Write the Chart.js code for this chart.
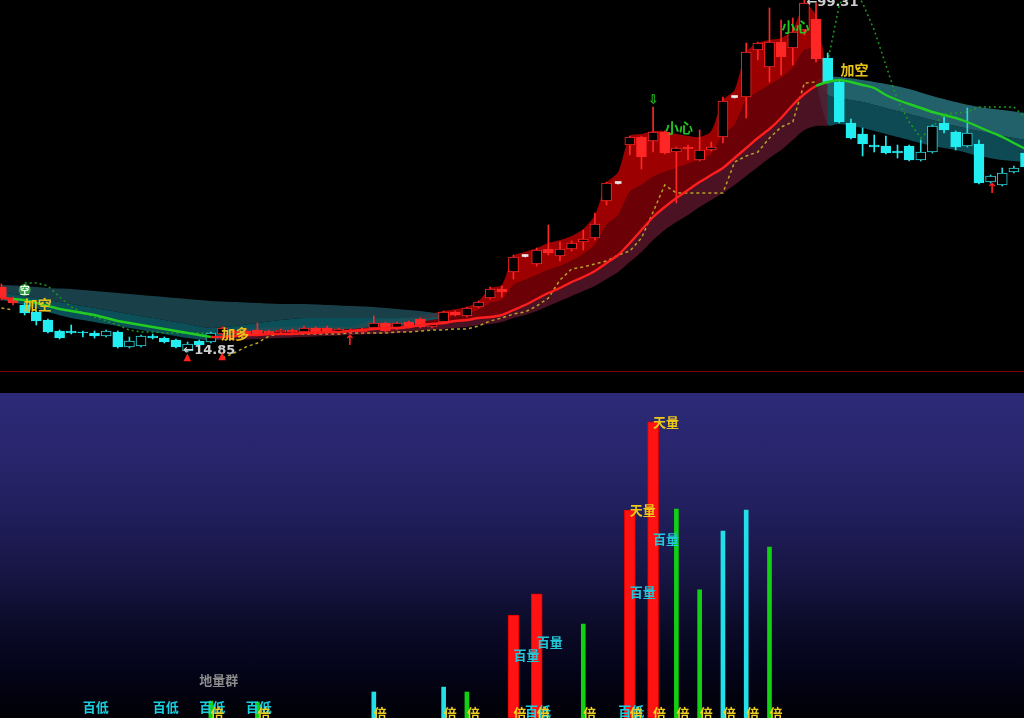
<!DOCTYPE html>
<html><head><meta charset="utf-8">
<script src="https://cdn.jsdelivr.net/npm/chart.js@4/dist/chart.umd.min.js"></script>
<style>
html,body{margin:0;padding:0;background:#000;width:1024px;height:718px;overflow:hidden}
#top{position:absolute;left:0;top:0}
#sep{position:absolute;left:0;top:371px;width:1024px;height:1px;background:#7a0000}
#volWrap{position:absolute;left:0;top:393px;width:1024px;height:325px;
background:linear-gradient(to bottom,#2d2a78 0%,#28256c 20%,#1f1d58 40%,#151440 58%,#0b0b28 72%,#04041a 85%,#000005 100%)}
#vol{position:absolute;left:0;top:0}
</style></head><body>
<canvas id="top" width="1024" height="370"></canvas>
<div id="sep"></div>
<div id="volWrap"><canvas id="vol" width="1024" height="325"></canvas></div>
<script>
// ---------- price data (one entry per trading day) ----------
const opens = [30.43,27.55,26.11,24.43,22.51,19.87,19.87,19.63,19.39,18.67,
19.63,16.03,16.27,18.67,18.19,17.71,15.07,17.47,17.23,19.15,
19.87,19.87,20.11,19.87,19.63,20.11,19.63,20.59,20.59,19.63,
20.11,19.63,20.59,21.79,20.35,22.03,22.75,20.83,22.03,24.43,
23.47,25.63,27.79,29.95,34.03,37.87,35.95,39.55,37.87,39.55,
41.23,42.19,51.07,55.39,64.51,66.43,65.47,67.63,62.83,64.03,
60.91,63.31,66.43,76.03,76.03,87.31,83.23,89.23,87.79,92.11,
94.75,85.39,79.63,69.79,67.15,64.51,64.27,63.07,64.27,60.91,
62.83,69.79,67.63,64.27,64.75,55.63,54.91,58.03,62.59];
const highs = [31.15,28.03,26.59,24.67,22.75,20.11,21.31,19.87,19.87,20.11,
19.87,18.43,18.91,19.15,18.43,17.95,17.23,17.71,19.63,20.83,
20.11,20.35,21.79,20.11,20.35,20.35,21.07,20.83,21.07,20.59,
20.35,20.59,23.47,22.03,22.03,22.27,22.99,21.79,24.67,24.67,
25.63,27.07,30.43,30.67,38.11,38.11,39.79,45.31,41.23,41.47,
44.11,48.19,55.63,55.63,66.67,66.67,73.63,67.87,64.03,64.51,
68.11,65.23,76.03,76.27,88.99,89.23,97.39,94.51,94.99,99.31,
98.59,86.59,79.87,70.75,68.59,66.91,66.67,64.51,64.51,65.71,
69.31,71.23,67.87,73.39,65.71,57.31,58.99,59.47,63.07];
const lows = [27.31,26.11,23.71,21.31,19.39,17.95,19.15,18.43,18.19,18.43,
15.79,15.79,16.03,17.95,16.99,15.79,14.85,16.27,16.99,18.91,
19.15,18.91,18.91,19.15,19.39,19.39,19.39,19.39,19.39,19.39,
19.39,19.39,20.35,19.63,20.11,20.59,20.59,20.59,21.79,23.47,
23.23,25.39,27.55,28.03,32.35,37.63,35.47,38.11,36.67,39.07,
39.31,41.71,50.11,55.15,62.11,58.75,62.83,62.35,50.59,60.91,
60.67,63.07,64.99,75.79,70.99,84.91,79.63,81.31,83.71,90.91,
84.43,79.39,69.79,65.95,61.87,62.83,62.35,61.39,60.67,60.67,
62.59,67.39,63.31,64.03,55.15,55.39,54.67,57.79,58.99];
const closes = [27.79,26.59,24.19,22.27,19.63,18.19,19.39,19.39,18.67,19.87,
16.03,17.47,18.67,18.19,17.23,16.03,16.75,16.51,19.39,20.59,
19.39,19.15,19.15,19.39,20.11,19.63,20.59,19.63,19.63,20.35,
19.63,20.35,21.79,19.87,21.79,20.83,20.83,21.55,24.43,23.71,
25.39,26.83,29.95,29.23,37.63,37.87,39.31,38.59,39.55,40.99,
41.95,45.55,55.39,55.39,66.43,61.63,67.63,62.59,63.79,63.55,
63.31,64.03,75.07,76.03,86.83,88.99,89.23,85.63,91.63,98.59,
85.15,79.63,70.03,66.19,64.75,64.03,62.59,62.59,60.91,62.83,
69.07,68.11,64.03,67.39,55.39,57.07,57.79,58.99,59.23];
// trend state: 1 = long (red), 0 = short (cyan)
const trendUp = [1,1,
0,0,0,0,0,0,0,0,0,0,0,0,0,0,0,0,0,
1,1,1,1,1,1,1,1,1,1,1,1,1,1,1,1,1,1,1,1,1,1,1,1,1,1,
1,1,1,1,1,1,1,1,1,1,1,1,1,1,1,1,1,1,1,1,1,1,1,1,1,1,
0,0,0,0,0,0,0,0,0,0,0,0,0,0,0,0,0,0];
const maLine = [27.79,27.55,27.31,26.59,25.87,25.15,24.67,24.19,23.71,22.99,
22.27,21.79,21.31,20.83,20.35,19.87,19.39,18.91,18.43,18.43,
18.67,18.91,18.91,19.15,19.15,19.15,19.39,19.39,19.63,19.63,
19.87,20.11,20.35,20.59,20.59,20.83,21.31,21.55,21.79,22.27,
22.51,22.99,23.23,23.71,24.91,26.11,27.55,28.99,30.19,31.63,
32.83,34.27,36.19,38.11,40.99,44.11,47.23,49.63,51.79,53.71,
55.63,57.31,58.99,61.39,63.79,66.19,68.35,70.99,74.11,76.75,
78.67,79.63,80.11,79.63,78.91,78.19,76.51,75.31,74.35,73.39,
72.43,71.71,70.99,70.03,68.83,67.63,66.43,64.99,63.55];
const stopLine = [25.39,24.91,31.39,31.39,30.67,28.03,25.63,24.19,23.23,22.27,
21.31,20.11,19.63,19.63,19.39,19.39,19.39,19.39,19.39,13.39,
14.59,16.03,16.99,18.67,19.15,19.15,19.15,19.15,19.15,19.15,
19.39,19.39,19.39,19.39,19.63,19.63,19.87,20.11,20.11,20.35,
20.35,21.07,22.27,22.99,23.95,24.43,25.87,27.79,32.11,34.75,
35.23,35.95,36.67,38.11,39.07,42.19,48.43,54.91,52.99,52.99,
52.99,52.99,52.99,60.43,61.87,62.83,66.19,68.83,70.03,79.39,
79.63,84.43,98.11,102.91,98.59,92.11,83.71,75.31,70.03,66.19,
68.83,71.95,72.19,72.43,73.63,73.63,73.63,73.63,70.99];
// cloud bands
const tealLeftIdx = [0,2,4,6,8,10,12,14,16,18,20,22,24,26,28,30,32,34,36,38];
const tealLeftTop = [30.91,30.67,30.19,29.95,29.47,28.99,28.51,28.03,27.55,27.07,26.83,26.59,26.35,26.35,26.11,25.87,25.63,25.15,24.67,23.95];
const tealLeftMid = [29.23,28.27,27.31,26.35,25.39,24.43,23.47,22.51,21.55,20.59,21.07,21.79,22.51,22.99,22.99,22.99,22.99,22.99,22.99,23.47];
const tealLeftBot = [27.31,26.11,24.43,22.99,22.03,21.07,20.11,19.15,18.19,17.71,18.67,19.39,19.87,20.11,20.35,20.35,20.83,21.07,22.03,22.99];
const redIdx = [18,20,22,24,26,28,30,32,34,36,38,40,41,42,43,44,45,46,47,48,49,50,51,52,53,54,55,56,57,58,59,60,61,62,63,64,65,66,67,68,69,70,71];
const redTop = [18.91,19.87,20.59,20.83,21.07,21.07,20.83,22.51,22.75,23.47,24.67,25.63,27.07,30.19,30.91,37.87,38.83,39.79,40.99,41.71,42.67,44.35,47.71,55.39,58.03,66.67,67.15,67.87,67.87,67.15,66.67,66.43,67.87,75.31,77.71,86.83,88.99,89.71,90.19,92.11,98.11,95.71,80.11];
const redMid = [18.67,19.15,19.63,19.87,20.11,20.35,20.35,21.31,21.55,22.27,22.99,23.95,24.91,26.59,27.31,30.91,32.11,33.31,34.51,35.47,36.67,38.35,40.51,45.31,47.71,53.23,54.91,56.83,58.03,58.99,59.95,60.91,62.35,66.91,69.31,75.31,77.23,78.91,80.59,82.99,87.31,87.31,79.87];
const redLow = [17.71,17.71,17.95,18.19,18.43,18.67,18.91,19.15,19.39,19.87,20.35,20.83,21.31,21.55,22.03,22.99,23.71,24.67,25.87,27.07,28.27,29.47,30.67,32.35,34.03,36.43,38.83,41.71,44.11,46.03,47.71,49.63,51.31,52.99,54.91,57.07,59.23,61.39,63.31,65.71,68.11,69.07,69.07];
const tealRightIdx = [70,71,72,74,76,78,80,82,84,86,88];
const tealRightTop = [80.11,80.83,80.83,80.11,79.15,77.95,76.27,74.83,73.63,72.91,72.19];
const tealRightMid = [79.87,76.51,75.79,74.83,73.39,71.95,70.51,69.07,67.87,66.67,65.71];
const tealRightBot = [79.63,69.31,69.55,68.59,67.15,65.71,64.27,63.31,61.87,60.91,60.43];
// top annotations
const topNoteText  = ['空','加空','加多','←14.85','▲','▲','↑','⇩','小心','小心','←99.31','加空','↑'];
const topNoteIdx   = [2.0,3.12,20.09,17.86,15.97,18.97,29.94,56.0,58.22,68.24,71.41,73.3,85.12];
const topNotePrice = [29.71,26.11,19.15,15.07,13.63,13.87,17.47,75.07,68.59,92.83,98.59,82.51,53.95];
const topNoteKind  = ['badge','signal','signal','price','tri','tri','arrow','warnArrow','warn','warn','price','signal','arrow'];
// volume panel (special-volume bars only)
const volThinIdx  = [18,22,32,38,40,50,58,60,62,64,66];
const volThin     = [5.2,4.9,8.0,9.5,8.0,28.9,64.3,39.4,57.5,64.0,52.6];
const volThinKind = ['g','g','c','c','g','g','g','g','c','c','g'];
const volWideIdx  = [44,46,54,56];
const volWide     = [31.7,38.2,64.0,91.1];
const volNoteText = ['天量','天量','百量','百量','百量','百量','百低','百低','百低','百低','百低','百低','地量群'];
const volNoteIdx  = [56,54,56,54,44,46,7,13,17,21,45,53,17];
const volNoteVal  = [91.1,64.0,55.1,38.8,19.4,23.4,3.4,3.4,3.4,3.4,2.2,2.2,11.7];
const beiIdx      = [18,22,32,38,40,44,46,50,54,56,58,60,62,64,66];
const beiVal      = 1.5;

// ---------- styling ----------
const RED='#ff2626', CYAN='#22eef2', CYAN_EDGE='#2cd6da', DOJI='#e8e8e8';
const MA_RED='#ff1e1e', MA_GREEN='#22cc22';
const CJK='"Noto Sans CJK SC","DejaVu Sans",sans-serif';
function candleColor(i, edge){ if (opens[i]===closes[i]) return DOJI; return trendUp[i] ? RED : (edge && closes[i]>=opens[i] ? CYAN_EDGE : CYAN); }

function band(idx, vals, fill, color){
  return {type:'line', data: idx.map((x,k)=>({x, y: vals[k]})), borderWidth:0, pointRadius:0,
    fill: fill, backgroundColor: color, order: 10, tension: 0.25};
}
const redBase = redIdx.map(i => maLine[i]);

const topDatasets = [
  band(tealLeftIdx, tealLeftTop, 1, 'rgba(28,72,82,0.88)'),          //0
  band(tealLeftIdx, tealLeftMid, 2, 'rgba(12,90,100,0.88)'),         //1
  band(tealLeftIdx, tealLeftBot, false, 'rgba(0,0,0,0)'),            //2
  band(redIdx, redTop, 4, 'rgba(170,0,0,0.92)'),                     //3
  band(redIdx, redMid, 5, 'rgba(120,0,8,0.9)'),                      //4
  band(redIdx, redBase, 6, 'rgba(92,22,42,0.8)'),                    //5
  band(redIdx, redLow, false, 'rgba(0,0,0,0)'),                      //6
  band(tealRightIdx, tealRightTop, 8, 'rgba(38,108,116,0.9)'),       //7
  band(tealRightIdx, tealRightMid, 9, 'rgba(14,82,92,0.9)'),         //8
  band(tealRightIdx, tealRightBot, false, 'rgba(0,0,0,0)'),          //9
  {type:'line', data: stopLine.map((v,i)=>({x:i, y: trendUp[i] ? v : null})), borderColor:'#b9a12a',
    borderWidth:1.5, borderDash:[3,3], pointRadius:0, spanGaps:false, fill:false, order:8},
  {type:'line', data: stopLine.map((v,i)=>({x:i, y: trendUp[i] ? null : v})), borderColor:'#1f9a1f',
    borderWidth:1.5, borderDash:[2,3], pointRadius:0, spanGaps:false, fill:false, order:8},
  {type:'bar', data: opens.map((o,i)=>({x:i, y:[lows[i], highs[i]]})),
    backgroundColor: c => c.raw ? candleColor(c.raw.x, true) : RED, borderWidth:0,
    barThickness:1, grouped:false, order:6},
  {type:'bar', data: opens.map((o,i)=>({x:i, y:[Math.min(o,closes[i]), Math.max(o,closes[i])]})).filter(d=>opens[d.x]!==closes[d.x]),
    backgroundColor: c => { if(!c.raw) return RED; const i=c.raw.x; return closes[i]<opens[i] ? candleColor(i) : '#000'; },
    borderColor: c => c.raw ? candleColor(c.raw.x, true) : RED,
    borderWidth:1, borderSkipped:false, barThickness:10, minBarLength:1, grouped:false, order:5},
  {type:'bar', data: opens.map((o,i)=>({x:i, y:[o-0.12, o+0.12]})).filter(d=>opens[d.x]===closes[d.x]),
    backgroundColor: DOJI, borderWidth:0, barThickness:6, minBarLength:2, grouped:false, order:4},
  {type:'line', data: maLine.map((v,i)=>({x:i, y:v})), borderWidth:2.4, pointRadius:0, fill:false, tension:0.2,
    borderColor: MA_RED, segment:{borderColor: c => trendUp[c.p1DataIndex] ? MA_RED : MA_GREEN}, order:3}
];

const TOP_STYLE = {
  signal:{font:'bold 14px '+CJK, color:'#e8c21a'},
  warn:{font:'bold 14px '+CJK, color:'#22c422'},
  price:{font:'bold 13px "DejaVu Sans",sans-serif', color:'#cfcfcf'},
  tri:{font:'10px "DejaVu Sans",sans-serif', color:'#ff2020'},
  arrow:{font:'bold 14px "DejaVu Sans",sans-serif', color:'#ff2020'},
  warnArrow:{font:'bold 13px "DejaVu Sans",sans-serif', color:'#22c422'},
  badge:{font:'bold 10px '+CJK, color:'#e8ffe8', badge:'#3a9f4a'}
};
const VOL_STYLE = {
  '天量':{font:'bold 13px '+CJK, color:'#ecc81a'},
  '百量':{font:'bold 13px '+CJK, color:'#22c6d6'},
  '百低':{font:'bold 13px '+CJK, color:'#18cfe0'},
  '地量群':{font:'bold 13px '+CJK, color:'#8c8c8c'},
  '倍':{font:'bold 13px '+CJK, color:'#f0d020'}
};

function notesPlugin(id, items, styleOf, align){
  return {id, afterDatasetsDraw(chart){
    const {ctx, scales} = chart;
    ctx.save();
    ctx.textBaseline = 'middle';
    ctx.textAlign = align;
    items.forEach(n => {
      const px = scales.x.getPixelForValue(n.x), py = scales.y.getPixelForValue(n.y);
      const st = styleOf(n);
      if (st.badge){ ctx.beginPath(); ctx.arc(px, py, 6, 0, Math.PI*2); ctx.fillStyle = st.badge; ctx.fill(); }
      ctx.font = st.font; ctx.fillStyle = st.color;
      ctx.fillText(n.t, px, py);
    });
    ctx.restore();
  }};
}

const topItems = topNoteText.map((t,k)=>({t, x: topNoteIdx[k], y: topNotePrice[k], k: topNoteKind[k]}));

new Chart(document.getElementById('top'), {
  type:'bar',
  data:{datasets: topDatasets},
  options:{
    responsive:false, animation:false, events:[],
    layout:{padding:0},
    plugins:{legend:{display:false}, tooltip:{enabled:false}},
    scales:{
      x:{type:'linear', min:-0.12, max:87.87, offset:false, display:false},
      y:{type:'linear', min:10.51, max:99.31, display:false}
    }
  },
  plugins:[notesPlugin('notesTop', topItems, n => TOP_STYLE[n.k], 'center')]
});

const volItems = volNoteText.map((t,k)=>({t, x: volNoteIdx[k], y: volNoteVal[k]}))
  .concat(beiIdx.map(i=>({t:'倍', x:i, y:beiVal})));

new Chart(document.getElementById('vol'), {
  type:'bar',
  data:{datasets:[
    {data: volThinIdx.map((x,k)=>({x, y: volThin[k]})),
      backgroundColor: volThinKind.map(k => k==='g' ? '#12d012' : '#22e0ea'),
      barThickness:4, grouped:false, borderWidth:0},
    {data: volWideIdx.map((x,k)=>({x, y: volWide[k]})),
      backgroundColor:'#ff1212', borderColor:'#e00000', borderWidth:1, borderSkipped:false,
      barThickness:11, grouped:false}
  ]},
  options:{
    responsive:false, animation:false, events:[],
    layout:{padding:0},
    plugins:{legend:{display:false}, tooltip:{enabled:false}},
    scales:{
      x:{type:'linear', min:-0.12, max:87.87, offset:false, display:false},
      y:{type:'linear', min:0, max:100, display:false}
    }
  },
  plugins:[notesPlugin('notesVol', volItems, n => VOL_STYLE[n.t], 'left')]
});
</script>
</body></html>
